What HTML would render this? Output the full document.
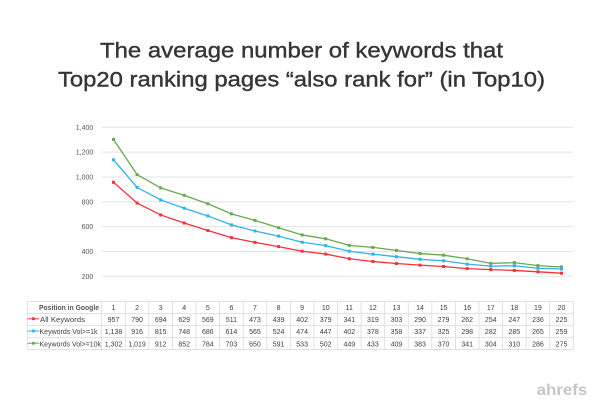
<!DOCTYPE html>
<html>
<head>
<meta charset="utf-8">
<style>
html,body{margin:0;padding:0;background:#fff;}
svg{display:block;}
text{font-family:"Liberation Sans",sans-serif;}
</style>
</head>
<body>
<svg width="600" height="405" viewBox="0 0 600 405" xmlns="http://www.w3.org/2000/svg">
<defs>
<marker id="mr" markerUnits="userSpaceOnUse" markerWidth="4" markerHeight="4" refX="2" refY="2"><rect x="0.5" y="0.5" width="3" height="3" fill="#f5323c"/></marker>
<marker id="mb" markerUnits="userSpaceOnUse" markerWidth="4" markerHeight="4" refX="2" refY="2"><rect x="0.5" y="0.5" width="3" height="3" fill="#2fb2ee"/></marker>
<marker id="mg" markerUnits="userSpaceOnUse" markerWidth="4" markerHeight="4" refX="2" refY="2"><rect x="0.5" y="0.5" width="3" height="3" fill="#6aa84f"/></marker>
</defs>

<!-- Title -->
<text x="301.5" y="57.3" text-anchor="middle" font-size="21.5" fill="#363636" stroke="#363636" stroke-width="0.4" textLength="403" lengthAdjust="spacingAndGlyphs">The average number of keywords that</text>
<text x="301.5" y="86.7" text-anchor="middle" font-size="21.5" fill="#363636" stroke="#363636" stroke-width="0.4" textLength="487" lengthAdjust="spacingAndGlyphs">Top20 ranking pages “also rank for” (in Top10)</text>

<!-- Gridlines -->
<g stroke="#e3e3e3" stroke-width="1">
<line x1="101.7" y1="127.3" x2="573.3" y2="127.3"/>
<line x1="101.7" y1="152.1" x2="573.3" y2="152.1"/>
<line x1="101.7" y1="177.0" x2="573.3" y2="177.0"/>
<line x1="101.7" y1="201.8" x2="573.3" y2="201.8"/>
<line x1="101.7" y1="226.6" x2="573.3" y2="226.6"/>
<line x1="101.7" y1="251.5" x2="573.3" y2="251.5"/>
<line x1="101.7" y1="276.3" x2="573.3" y2="276.3"/>
</g>
<g font-size="7" fill="#595959" text-anchor="end">
<text x="93.3" y="129.8">1,400</text>
<text x="93.3" y="154.6">1,200</text>
<text x="93.3" y="179.5">1,000</text>
<text x="93.3" y="204.3">800</text>
<text x="93.3" y="229.1">600</text>
<text x="93.3" y="254.0">400</text>
<text x="93.3" y="278.8">200</text>
</g>

<!-- Series -->
<polyline fill="none" stroke="#6aa84f" stroke-width="1.3" marker-start="url(#mg)" marker-mid="url(#mg)" marker-end="url(#mg)"
points="113.5,139.46 137.08,174.60 160.66,187.89 184.24,195.34 207.82,203.78 231.40,213.84 254.98,220.42 278.56,227.75 302.14,234.95 325.72,238.80 349.30,245.38 372.88,247.37 396.46,250.35 420.04,253.57 443.62,255.19 467.20,258.79 490.78,263.38 514.36,262.64 537.94,265.62 561.52,266.98"/>
<polyline fill="none" stroke="#2fb2ee" stroke-width="1.3" marker-start="url(#mb)" marker-mid="url(#mb)" marker-end="url(#mb)"
points="113.5,159.83 137.08,187.39 160.66,199.93 184.24,208.25 207.82,215.95 231.40,224.89 254.98,230.98 278.56,236.07 302.14,242.27 325.72,245.63 349.30,251.21 372.88,254.19 396.46,256.68 420.04,259.29 443.62,260.78 467.20,264.13 490.78,266.11 514.36,265.74 537.94,268.23 561.52,268.97"/>
<polyline fill="none" stroke="#f5323c" stroke-width="1.3" marker-start="url(#mr)" marker-mid="url(#mr)" marker-end="url(#mr)"
points="113.5,182.30 137.08,203.04 160.66,214.96 184.24,223.03 207.82,230.48 231.40,237.68 254.98,242.40 278.56,246.62 302.14,251.21 325.72,254.07 349.30,258.79 372.88,261.52 396.46,263.51 420.04,265.12 443.62,266.49 467.20,268.60 490.78,269.59 514.36,270.46 537.94,271.83 561.52,273.19"/>

<!-- Table grid -->
<g stroke="#dadada" stroke-width="0.8" fill="none">
<rect x="27.3" y="301.5" width="546" height="48"/>
<line x1="27.3" y1="313.5" x2="573.3" y2="313.5"/>
<line x1="27.3" y1="325.5" x2="573.3" y2="325.5"/>
<line x1="27.3" y1="337.5" x2="573.3" y2="337.5"/>
<line x1="101.7" y1="301.5" x2="101.7" y2="349.5"/>
<line x1="125.28" y1="301.5" x2="125.28" y2="349.5"/>
<line x1="148.86" y1="301.5" x2="148.86" y2="349.5"/>
<line x1="172.44" y1="301.5" x2="172.44" y2="349.5"/>
<line x1="196.02" y1="301.5" x2="196.02" y2="349.5"/>
<line x1="219.60" y1="301.5" x2="219.60" y2="349.5"/>
<line x1="243.18" y1="301.5" x2="243.18" y2="349.5"/>
<line x1="266.76" y1="301.5" x2="266.76" y2="349.5"/>
<line x1="290.34" y1="301.5" x2="290.34" y2="349.5"/>
<line x1="313.92" y1="301.5" x2="313.92" y2="349.5"/>
<line x1="337.50" y1="301.5" x2="337.50" y2="349.5"/>
<line x1="361.08" y1="301.5" x2="361.08" y2="349.5"/>
<line x1="384.66" y1="301.5" x2="384.66" y2="349.5"/>
<line x1="408.24" y1="301.5" x2="408.24" y2="349.5"/>
<line x1="431.82" y1="301.5" x2="431.82" y2="349.5"/>
<line x1="455.40" y1="301.5" x2="455.40" y2="349.5"/>
<line x1="478.98" y1="301.5" x2="478.98" y2="349.5"/>
<line x1="502.56" y1="301.5" x2="502.56" y2="349.5"/>
<line x1="526.14" y1="301.5" x2="526.14" y2="349.5"/>
<line x1="549.72" y1="301.5" x2="549.72" y2="349.5"/>
</g>

<!-- Table legend markers -->
<line x1="27.5" y1="318.8" x2="39.3" y2="318.8" stroke="#f5323c" stroke-width="1"/>
<rect x="32" y="317.4" width="2.8" height="2.8" fill="#f5323c"/>
<line x1="27.5" y1="331.0" x2="39.3" y2="331.0" stroke="#2fb2ee" stroke-width="1"/>
<rect x="32" y="329.6" width="2.8" height="2.8" fill="#2fb2ee"/>
<line x1="27.5" y1="343.2" x2="39.3" y2="343.2" stroke="#6aa84f" stroke-width="1"/>
<rect x="32" y="341.8" width="2.8" height="2.8" fill="#6aa84f"/>

<g font-size="7" fill="#404040">
<text x="99" y="310" text-anchor="end" font-weight="bold" fill="#555" textLength="60" lengthAdjust="spacingAndGlyphs">Position in Google</text>
<text x="40" y="322" textLength="45" lengthAdjust="spacingAndGlyphs">All Keywords</text>
<text x="39.5" y="334.2" textLength="58" lengthAdjust="spacingAndGlyphs">Keywords Vol&gt;=1k</text>
<text x="39.5" y="346.4" textLength="61.5" lengthAdjust="spacingAndGlyphs">Keywords Vol&gt;=10k</text>
</g>

<g font-size="7" fill="#404040" text-anchor="middle">
<text x="113.5" y="310">1</text><text x="137.08" y="310">2</text><text x="160.66" y="310">3</text><text x="184.24" y="310">4</text><text x="207.82" y="310">5</text><text x="231.40" y="310">6</text><text x="254.98" y="310">7</text><text x="278.56" y="310">8</text><text x="302.14" y="310">9</text><text x="325.72" y="310">10</text><text x="349.30" y="310">11</text><text x="372.88" y="310">12</text><text x="396.46" y="310">13</text><text x="420.04" y="310">14</text><text x="443.62" y="310">15</text><text x="467.20" y="310">16</text><text x="490.78" y="310">17</text><text x="514.36" y="310">18</text><text x="537.94" y="310">19</text><text x="561.52" y="310">20</text>
<text x="113.5" y="322">957</text><text x="137.08" y="322">790</text><text x="160.66" y="322">694</text><text x="184.24" y="322">629</text><text x="207.82" y="322">569</text><text x="231.40" y="322">511</text><text x="254.98" y="322">473</text><text x="278.56" y="322">439</text><text x="302.14" y="322">402</text><text x="325.72" y="322">379</text><text x="349.30" y="322">341</text><text x="372.88" y="322">319</text><text x="396.46" y="322">303</text><text x="420.04" y="322">290</text><text x="443.62" y="322">279</text><text x="467.20" y="322">262</text><text x="490.78" y="322">254</text><text x="514.36" y="322">247</text><text x="537.94" y="322">236</text><text x="561.52" y="322">225</text>
<text x="113.5" y="334.2">1,138</text><text x="137.08" y="334.2">916</text><text x="160.66" y="334.2">815</text><text x="184.24" y="334.2">748</text><text x="207.82" y="334.2">686</text><text x="231.40" y="334.2">614</text><text x="254.98" y="334.2">565</text><text x="278.56" y="334.2">524</text><text x="302.14" y="334.2">474</text><text x="325.72" y="334.2">447</text><text x="349.30" y="334.2">402</text><text x="372.88" y="334.2">378</text><text x="396.46" y="334.2">358</text><text x="420.04" y="334.2">337</text><text x="443.62" y="334.2">325</text><text x="467.20" y="334.2">298</text><text x="490.78" y="334.2">282</text><text x="514.36" y="334.2">285</text><text x="537.94" y="334.2">265</text><text x="561.52" y="334.2">259</text>
<text x="113.5" y="346.4">1,302</text><text x="137.08" y="346.4">1,019</text><text x="160.66" y="346.4">912</text><text x="184.24" y="346.4">852</text><text x="207.82" y="346.4">784</text><text x="231.40" y="346.4">703</text><text x="254.98" y="346.4">650</text><text x="278.56" y="346.4">591</text><text x="302.14" y="346.4">533</text><text x="325.72" y="346.4">502</text><text x="349.30" y="346.4">449</text><text x="372.88" y="346.4">433</text><text x="396.46" y="346.4">409</text><text x="420.04" y="346.4">383</text><text x="443.62" y="346.4">370</text><text x="467.20" y="346.4">341</text><text x="490.78" y="346.4">304</text><text x="514.36" y="346.4">310</text><text x="537.94" y="346.4">286</text><text x="561.52" y="346.4">275</text>
</g>

<!-- logo -->
<text x="536.7" y="395" font-size="16" font-weight="bold" fill="#c6c6c6" textLength="50.6" lengthAdjust="spacingAndGlyphs">ahrefs</text>
</svg>
</body>
</html>
